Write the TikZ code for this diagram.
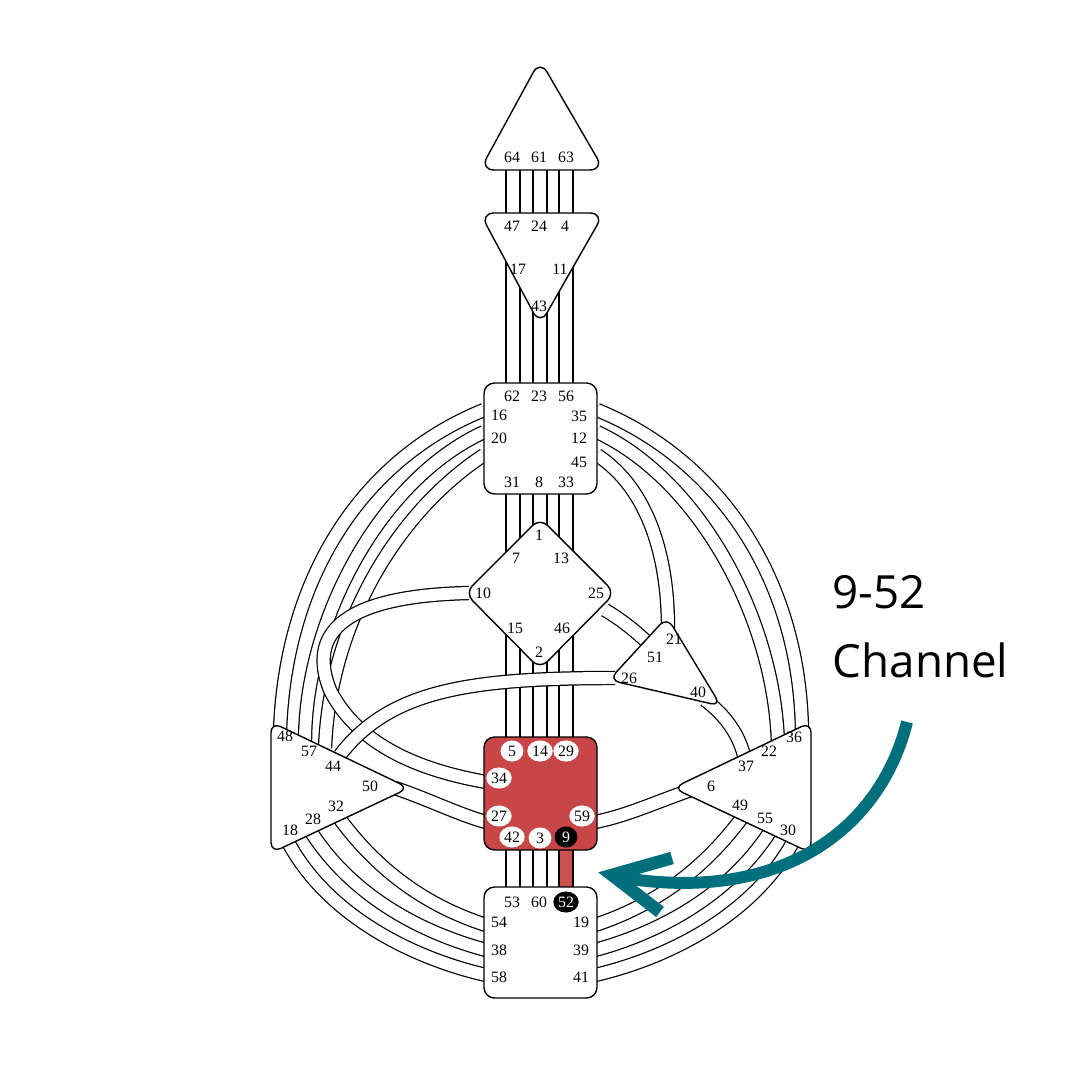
\documentclass[tikz,border=0pt]{standalone}
\usetikzlibrary{shapes.geometric}
\usepackage{fontspec}
\setmainfont{Liberation Serif}
\newfontfamily\labelfont{Open Sans}
\begin{document}
\begin{tikzpicture}[x=0.01cm,y=-0.01cm,
  ch/.style={draw=black,line width=0.35pt,double=white,double distance=3.4pt},
  vch/.style={draw=black,line width=0.35pt,double=white,double distance=3.6pt},
  rch/.style={draw=black,line width=0.35pt,double={rgb,255:red,205;green,80;blue,80},double distance=3.6pt},
  ctr/.style={draw=black,line width=0.4pt,fill=white,rounded corners=3pt},
  g/.style={font=\fontsize{4.5}{5}\selectfont,inner sep=0pt},
  gb/.style={g,fill=white,ellipse,minimum width=6.5pt,minimum height=6pt,inner sep=0.3pt,draw=none},
  gk/.style={gb,fill=black,text=white}]
\useasboundingbox (0,0) rectangle (1080,1080);
\fill[white] (0,0) rectangle (1080,1080);
% vertical channels
\foreach \x in {513,540,566} {
  \draw[vch] (\x,168) -- (\x,215);
  \draw[vch] (\x,250) -- (\x,385);
  \draw[vch] (\x,492) -- (\x,740);
}
\draw[vch] (513,848) -- (513,890);
\draw[vch] (540,848) -- (540,890);
\draw[rch] (566,848) -- (566,890);
% left arcs
\draw[ch] (484,410) .. controls (360,460) and (285,580) .. (280,732);
\draw[ch] (484,432) .. controls (380,480) and (305,620) .. (305,742);
\draw[ch] (484,455) .. controls (400,510) and (330,620) .. (325,748);
\draw[ch] (469,593) .. controls (380,595) and (300,615) .. (330,690) .. controls (360,750) and (430,772) .. (486,782);
\draw[ch] (340,755) .. controls (390,690) and (470,678) .. (615,678);
\draw[ch] (395,788) .. controls (430,800) and (460,815) .. (486,822);
\draw[ch] (330,805) .. controls (380,880) and (440,910) .. (486,925);
\draw[ch] (305,822) .. controls (350,900) and (430,935) .. (486,950);
\draw[ch] (288,842) .. controls (330,920) and (420,960) .. (486,975);
% right arcs
\draw[ch] (597,410) .. controls (720,460) and (800,580) .. (802,732);
\draw[ch] (597,432) .. controls (700,480) and (775,620) .. (778,745);
\draw[ch] (597,455) .. controls (650,490) and (668,560) .. (668,628);
\draw[ch] (605,610) .. controls (630,625) and (645,640) .. (655,650);
\draw[ch] (705,700) .. controls (725,715) and (740,735) .. (745,760);
\draw[ch] (697,788) .. controls (660,800) and (630,815) .. (595,822);
\draw[ch] (751,805) .. controls (700,880) and (640,910) .. (595,925);
\draw[ch] (776,822) .. controls (730,900) and (650,935) .. (595,950);
\draw[ch] (793,842) .. controls (750,920) and (660,960) .. (595,975);
% centers
\draw[ctr,rounded corners=4pt] (540,60) -- (604,170) -- (480,170) -- cycle;
\draw[ctr,rounded corners=4pt] (480,213) -- (604,213) -- (540,325) -- cycle;
\draw[ctr] (484,383) rectangle (597,494);
\draw[ctr] (540,518) -- (615,593) -- (540,669) -- (465,593) -- cycle;
\draw[ctr] (667,617) -- (721,706) -- (609,680) -- cycle;
\draw[ctr] (271,722) -- (409,788) -- (271,853) -- cycle;
\draw[ctr] (811,722) -- (673,788) -- (811,853) -- cycle;
\draw[ctr,fill={rgb,255:red,200;green,70;blue,72}] (484,737) rectangle (597,850);
\draw[ctr] (484,887) rectangle (597,998);
% gate labels
\node[g] at (512,157) {64}; \node[g] at (539,157) {61}; \node[g] at (566,157) {63};
\node[g] at (512,226) {47}; \node[g] at (539,226) {24}; \node[g] at (565,226) {4};
\node[g] at (518,269) {17}; \node[g] at (560,269) {11}; \node[g] at (539,306) {43};
\node[g] at (512,396) {62}; \node[g] at (539,396) {23}; \node[g] at (566,396) {56};
\node[g] at (499,415) {16}; \node[g] at (499,438) {20};
\node[g] at (579,416) {35}; \node[g] at (579,438) {12}; \node[g] at (579,462) {45};
\node[g] at (512,482) {31}; \node[g] at (539,482) {8}; \node[g] at (566,482) {33};
\node[g] at (539,535) {1}; \node[g] at (516,558) {7}; \node[g] at (561,558) {13};
\node[g] at (483,593) {10}; \node[g] at (596,593) {25};
\node[g] at (515,628) {15}; \node[g] at (562,628) {46}; \node[g] at (539,652) {2};
\node[g] at (674,639) {21}; \node[g] at (655,657) {51}; \node[g] at (629,678) {26}; \node[g] at (698,692) {40};
\node[g] at (285,736) {48}; \node[g] at (309,751) {57}; \node[g] at (333,766) {44};
\node[g] at (370,786) {50}; \node[g] at (336,806) {32}; \node[g] at (313,819) {28}; \node[g] at (290,830) {18};
\node[g] at (794,737) {36}; \node[g] at (769,751) {22}; \node[g] at (746,766) {37};
\node[g] at (711,786) {6}; \node[g] at (740,805) {49}; \node[g] at (765,818) {55}; \node[g] at (788,830) {30};
\node[gb] at (512,751) {5}; \node[gb] at (540,751) {14}; \node[gb] at (566,751) {29};
\node[gb] at (499,778) {34}; \node[gb] at (499,816) {27}; \node[gb] at (582,816) {59};
\node[gb] at (512,837) {42}; \node[gb] at (540,838) {3}; \node[gk] at (566,837) {9};
\node[g] at (512,902) {53}; \node[g] at (539,902) {60}; \node[gk] at (566,902) {52};
\node[g] at (499,922) {54}; \node[g] at (499,950) {38}; \node[g] at (499,977) {58};
\node[g] at (581,922) {19}; \node[g] at (581,950) {39}; \node[g] at (581,977) {41};
% arrow
\definecolor{teal2}{RGB}{1,111,124}
\draw[teal2,line width=3.4pt] (907,722) .. controls (880,830) and (780,905) .. (618,877);
\draw[teal2,line width=3.6pt] (672,858) -- (612,875) -- (660,912);
\node[anchor=west,font=\labelfont\fontsize{13}{15}\selectfont,inner sep=0pt] (t1) at (832,592) {9-52};
\node[anchor=west,font=\labelfont\fontsize{13}{15}\selectfont,inner sep=0pt] (t2) at (832,660) {Channel};
\end{tikzpicture}
\end{document}
